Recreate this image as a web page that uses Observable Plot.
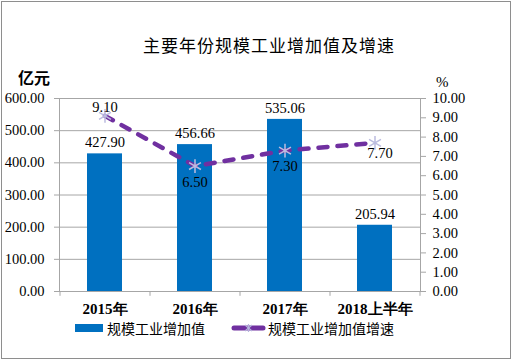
<!DOCTYPE html>
<html><head><meta charset="utf-8">
<script src="https://cdn.jsdelivr.net/npm/d3@7"></script>
<script src="https://cdn.jsdelivr.net/npm/@observablehq/plot@0.6"></script>
<style>
body{margin:0;background:#fff;}
#wrap{position:relative;width:514px;height:361px;overflow:hidden;background:#fff;}
#chart{position:absolute;left:0;top:0;}
#frame{position:absolute;left:1px;top:1px;width:508px;height:356px;border:1px solid #8e8e8e;pointer-events:none;}
.t{position:absolute;white-space:nowrap;line-height:1;color:#000;}
.cjk{font-family:"Noto Sans CJK SC",sans-serif;}
.ser{font-family:"Liberation Serif",serif;}
</style></head><body>
<div id="wrap">
  <div id="chart"></div>
  <div id="frame"></div>
  <div class="t cjk" style="left:143px;top:36px;font-size:17px;letter-spacing:1px;">主要年份规模工业增加值及增速</div>
  <div class="t cjk" style="left:18px;top:69px;font-size:16px;font-weight:bold;">亿元</div>
  <div class="t ser" style="left:436px;top:75px;font-size:15px;">%</div>
  <div class="t" style="left:75px;top:324px;width:28px;height:8px;background:#0070C0;"></div>
  <div class="t cjk" style="left:107px;top:321px;font-size:14px;">规模工业增加值</div>
  <svg class="t" style="left:228px;top:318px;" width="40" height="20">
    <line x1="6" y1="10" x2="35" y2="10" stroke="#7030A0" stroke-width="5" stroke-linecap="round"/>
    <g stroke="#b4b4dc" stroke-width="1.2">
      <line x1="20.5" y1="6" x2="20.5" y2="14"/>
      <line x1="17" y1="7" x2="24" y2="13"/>
      <line x1="17" y1="13" x2="24" y2="7"/>
    </g>
  </svg>
  <div class="t cjk" style="left:268px;top:321px;font-size:14px;">规模工业增加值增速</div>
</div>
<script>
const categories = ["2015年", "2016年", "2017年", "2018上半年"];
const values = [427.90, 456.66, 535.06, 205.94];
const rates = [9.10, 6.50, 7.30, 7.70];
const leftTicks = [0, 100, 200, 300, 400, 500, 600];
const rightTicks = [0, 1, 2, 3, 4, 5, 6, 7, 8, 9, 10];

const k = 600 / 10; // right-axis (%) to left-axis units
const data = categories.map((c, i) => ({cat: c, value: values[i], rate: rates[i], i}));

const gray = "#a6a6a6";
const serif = "Liberation Serif";
const chart = Plot.plot({
  width: 514,
  height: 361,
  marginTop: 98,
  marginBottom: 70,
  marginLeft: 59,
  marginRight: 94,
  style: {background: "transparent"},
  x: {domain: categories, paddingInner: 0.61, paddingOuter: 0.305},
  y: {domain: [0, 600]},
  marks: [
    Plot.gridY(leftTicks, {stroke: gray, strokeOpacity: 1}),
    Plot.barY(data, {x: "cat", y: "value", fill: "#0070C0"}),
    Plot.frame({stroke: gray}),
    Plot.ruleX(categories, {x: d => d, dx: -45, y1: 0, y2: -15, stroke: gray}),
    Plot.ruleX(categories.slice(-1), {x: d => d, dx: 45, y1: 0, y2: -15, stroke: gray}),
    Plot.axisY(leftTicks, {anchor: "left", tickSize: 5, tickPadding: 10, stroke: gray, tickFormat: d => d.toFixed(2), fontSize: 14.5, fontFamily: serif, fill: "#000", label: null}),
    Plot.axisY(rightTicks.map(d => d * k), {anchor: "right", tickSize: 5, tickPadding: 7, stroke: gray, tickFormat: d => (d / k).toFixed(2), fontSize: 14.5, fontFamily: serif, fill: "#000", label: null}),
    Plot.axisX({tickSize: 0, tickPadding: 12, fontSize: 15, fontWeight: "bold", fontFamily: serif, fill: "#000", label: null}),
    Plot.text(data, {x: "cat", y: "value", text: d => d.value.toFixed(2), dy: -11, fontSize: 14.5, fontFamily: serif, fill: "#000"}),
    Plot.line(data, {x: "cat", y: d => d.rate * k, stroke: "#7030A0", strokeWidth: 4.5, strokeDasharray: "9,10", strokeLinecap: "round"}),
    Plot.dot(data, {x: "cat", y: d => d.rate * k, symbol: "asterisk", r: 6.5, stroke: "#bcbce0", strokeWidth: 1.5}),
    Plot.text(data.filter(d => d.i === 0), {x: "cat", y: d => d.rate * k, text: d => d.rate.toFixed(2), dy: -9, fontSize: 14.5, fontFamily: serif, fill: "#000"}),
    Plot.text(data.filter(d => d.i === 1 || d.i === 2), {x: "cat", y: d => d.rate * k, text: d => d.rate.toFixed(2), dy: 16, fontSize: 14.5, fontFamily: serif, fill: "#000"}),
    Plot.text(data.filter(d => d.i === 3), {x: "cat", y: d => d.rate * k, text: d => d.rate.toFixed(2), dx: 5, dy: 10, fontSize: 14.5, fontFamily: serif, fill: "#000"})
  ]
});
document.getElementById("chart").appendChild(chart);
</script>
</body></html>
